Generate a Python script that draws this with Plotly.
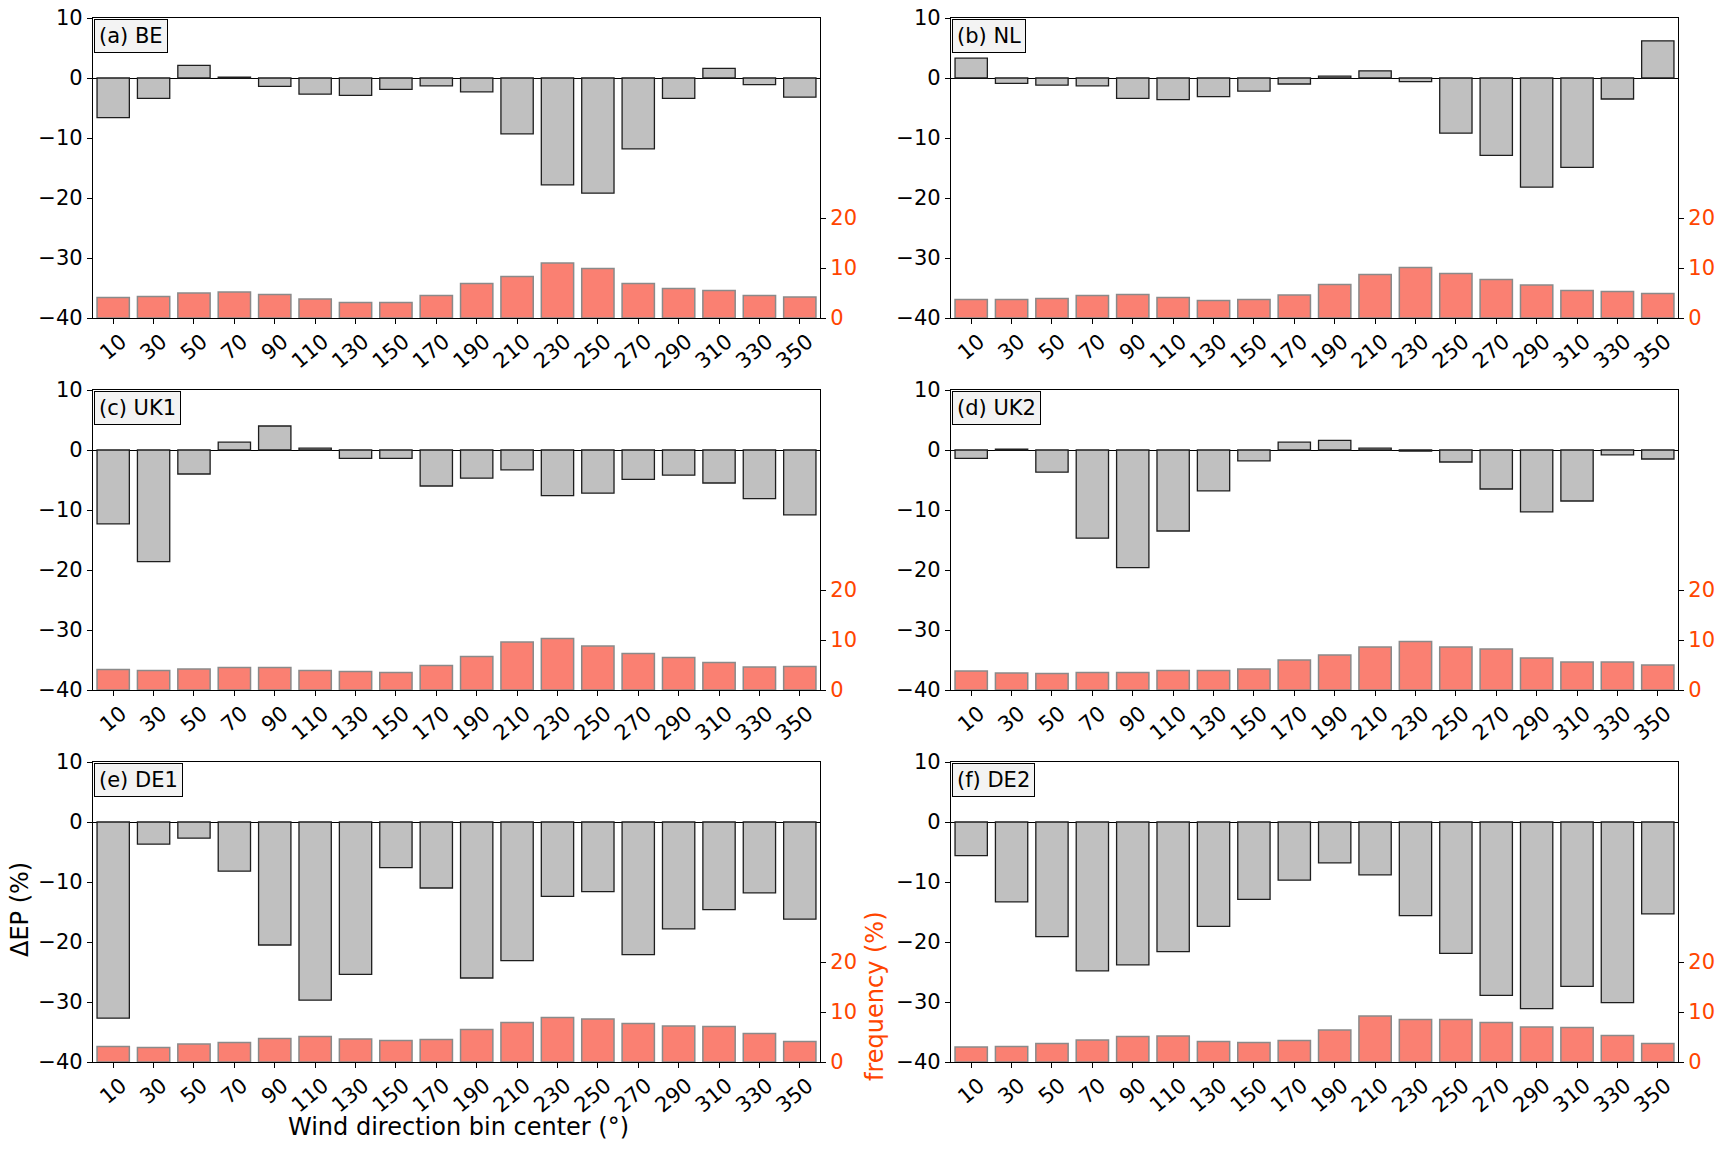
import plotly.graph_objects as go

directions = [10, 30, 50, 70, 90, 110, 130, 150, 170, 190, 210, 230, 250, 270, 290, 310, 330, 350]

panel_labels = ["(a) BE", "(b) NL", "(c) UK1", "(d) UK2", "(e) DE1", "(f) DE2"]

dep_be = [-6.6, -3.4, 2.1, 0.15, -1.4, -2.7, -2.9, -1.9, -1.3, -2.3, -9.3, -17.8, -19.2, -11.8, -3.4, 1.6, -1.1, -3.2]
freq_be = [4.1, 4.3, 5.0, 5.2, 4.7, 3.8, 3.1, 3.1, 4.5, 6.9, 8.3, 11.0, 9.9, 6.9, 5.9, 5.5, 4.5, 4.2]

dep_nl = [3.3, -0.9, -1.2, -1.3, -3.4, -3.6, -3.1, -2.2, -1.0, 0.3, 1.2, -0.6, -9.2, -12.9, -18.2, -14.9, -3.5, 6.2]
freq_nl = [3.7, 3.7, 3.9, 4.5, 4.7, 4.1, 3.5, 3.7, 4.6, 6.7, 8.7, 10.1, 8.9, 7.7, 6.6, 5.5, 5.3, 4.9]

dep_uk1 = [-12.3, -18.6, -4.0, 1.3, 4.0, 0.3, -1.4, -1.4, -6.0, -4.7, -3.3, -7.6, -7.2, -4.9, -4.2, -5.5, -8.1, -10.8]
freq_uk1 = [4.1, 3.9, 4.2, 4.5, 4.5, 3.9, 3.7, 3.5, 4.9, 6.7, 9.6, 10.3, 8.8, 7.3, 6.5, 5.5, 4.6, 4.7]

dep_uk2 = [-1.4, 0.15, -3.7, -14.7, -19.6, -13.5, -6.8, -1.8, 1.3, 1.6, 0.3, -0.2, -2.0, -6.5, -10.3, -8.5, -0.8, -1.5]
freq_uk2 = [3.8, 3.4, 3.3, 3.5, 3.5, 3.9, 3.9, 4.2, 6.0, 7.0, 8.6, 9.7, 8.6, 8.2, 6.4, 5.6, 5.6, 5.0]

dep_de1 = [-32.7, -3.7, -2.7, -8.2, -20.5, -29.7, -25.4, -7.6, -11.0, -26.0, -23.1, -12.4, -11.6, -22.1, -17.8, -14.6, -11.8, -16.2]
freq_de1 = [3.1, 2.9, 3.6, 3.9, 4.7, 5.1, 4.6, 4.3, 4.5, 6.5, 7.9, 8.9, 8.6, 7.7, 7.2, 7.1, 5.7, 4.1]

dep_de2 = [-5.6, -13.3, -19.1, -24.8, -23.8, -21.6, -17.4, -12.9, -9.7, -6.8, -8.8, -15.6, -21.9, -28.9, -31.1, -27.4, -30.1, -15.3]
freq_de2 = [3.0, 3.1, 3.7, 4.4, 5.1, 5.2, 4.1, 3.9, 4.3, 6.4, 9.2, 8.5, 8.5, 7.9, 7.0, 6.9, 5.3, 3.7]

dep_ticks = [10, 0, -10, -20, -30, -40]
freq_ticks = [0, 10, 20]

dep_series = [dep_be, dep_nl, dep_uk1, dep_uk2, dep_de1, dep_de2]
freq_series = [freq_be, freq_nl, freq_uk1, freq_uk2, freq_de1, freq_de2]

W, H = 1725, 1149
col_px = [(93, 820), (951, 1678)]
row_px = [(18, 318), (390, 690), (762, 1062)]

FONT = "DejaVu Sans"
ORANGE = "#ff4500"
TICK = 21
TITLE = 24

fig = go.Figure()
layout = dict(
    width=W, height=H, margin=dict(l=0, r=0, t=0, b=0, autoexpand=False),
    paper_bgcolor="white", plot_bgcolor="white",
    font=dict(family=FONT, size=TICK, color="black"),
    showlegend=False, barmode="overlay",
)
annotations = []

def fmt(v):
    return str(v) if v >= 0 else "\u2212" + str(-v)

for i in range(6):
    r, c = divmod(i, 2)
    xn = i + 1
    yp = 2 * i + 1
    ys = 2 * i + 2
    xs = "" if xn == 1 else str(xn)
    yps = "" if yp == 1 else str(yp)
    x0, x1 = col_px[c]
    t0, t1 = row_px[r]
    xdom = [x0 / W, x1 / W]
    ydom = [1 - t1 / H, 1 - t0 / H]

    fig.add_trace(go.Bar(
        x=directions, y=freq_series[i], width=16,
        marker=dict(color="#fa8072", line=dict(color="#8a8a8a", width=1.5)),
        xaxis="x" + xs, yaxis="y" + str(ys), hoverinfo="x+y",
    ))
    fig.add_trace(go.Bar(
        x=directions, y=dep_series[i], width=16,
        marker=dict(color="#c0c0c0", line=dict(color="#1e1e1e", width=1.3)),
        xaxis="x" + xs, yaxis="y" + yps, hoverinfo="x+y",
    ))

    layout["xaxis" + xs] = dict(
        domain=xdom, anchor="y" + yps, range=[0, 360], automargin=False,
        tickvals=directions, ticktext=[str(d) for d in directions],
        tickangle=-40, ticks="outside", ticklen=5, tickcolor="black",
        showline=True, linecolor="black", linewidth=1.2, mirror=True,
        showgrid=False, zeroline=False, tickfont=dict(size=TICK),
        ticklabelshift=8, ticklabelstandoff=-3,
    )
    layout["yaxis" + yps] = dict(
        domain=ydom, anchor="x" + xs, range=[-40, 10], automargin=False,
        tickvals=dep_ticks, ticktext=[fmt(v) for v in dep_ticks],
        ticks="outside", ticklen=5, tickcolor="black",
        showline=True, linecolor="black", linewidth=1.2, mirror=True,
        showgrid=False, zeroline=True, zerolinecolor="black", zerolinewidth=1.2,
        tickfont=dict(size=TICK),
    )
    layout["yaxis" + str(ys)] = dict(
        overlaying="y" + yps, anchor="x" + xs, side="right", range=[0, 60],
        automargin=False,
        tickvals=freq_ticks, ticktext=[str(v) for v in freq_ticks],
        ticks="outside", ticklen=5, tickcolor="black",
        showline=True, linecolor="black", linewidth=1.2,
        showgrid=False, zeroline=False,
        tickfont=dict(size=TICK, color=ORANGE),
    )
    annotations.append(dict(
        text=panel_labels[i], xref="x" + xs + " domain", yref="y" + yps + " domain",
        x=0.002, y=0.997, xanchor="left", yanchor="top", showarrow=False,
        font=dict(size=21, color="black"), bgcolor="#f3f3f3",
        bordercolor="black", borderwidth=1, borderpad=4,
    ))

annotations.append(dict(
    text="\u0394EP (%)", xref="paper", yref="paper", x=20 / W, y=1 - 910 / H,
    textangle=-90, showarrow=False, font=dict(size=TITLE, color="black"),
    xanchor="center", yanchor="middle",
))
annotations.append(dict(
    text="frequency (%)", xref="paper", yref="paper", x=875 / W, y=1 - 996 / H,
    textangle=-90, showarrow=False, font=dict(size=TITLE, color=ORANGE),
    xanchor="center", yanchor="middle",
))
annotations.append(dict(
    text="Wind direction bin center (\u00b0)", xref="paper", yref="paper",
    x=458 / W, y=1 - 1127 / H, showarrow=False, font=dict(size=TITLE, color="black"),
    xanchor="center", yanchor="middle",
))
layout["annotations"] = annotations
fig.update_layout(**layout)
fig.write_html("out.html")
